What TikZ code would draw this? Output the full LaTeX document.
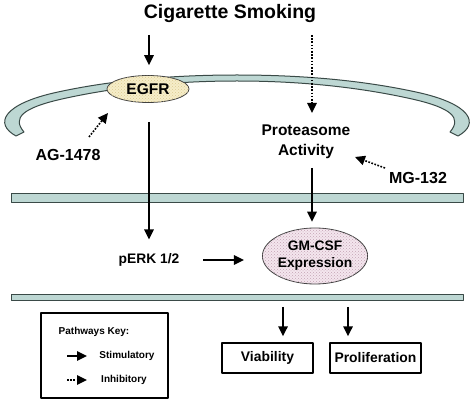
\documentclass[tikz,border=0pt]{standalone}
\usepackage{fontspec}
\setmainfont{Liberation Sans}
\usetikzlibrary{arrows.meta,shapes.geometric,patterns}
\definecolor{membrane}{HTML}{BDD7D3}
\definecolor{membraneedge}{HTML}{3A4A47}
\definecolor{receptor}{HTML}{F6EDC9}
\definecolor{receptordots}{HTML}{DCCB92}
\definecolor{expr}{HTML}{F4E6EE}
\definecolor{exprdots}{HTML}{C4A3B4}

\begin{document}
\begin{tikzpicture}[
  x=1pt, y=-1pt,
  line join=round,
  stim/.style={line width=1.6pt, -{Triangle[length=10pt,width=9.5pt]}},
  inhib/.style={stim, dash pattern=on 1.7pt off 1.5pt},
  band/.style={fill=membrane, draw=membraneedge, line width=1pt},
  lbl/.style={font=\bfseries\fontsize{15.5}{20}\selectfont, inner sep=0pt, align=center},
  smalllbl/.style={font=\bfseries\fontsize{13.8}{17}\selectfont, inner sep=0pt, align=center},
  keylbl/.style={font=\bfseries\fontsize{10}{12}\selectfont, inner sep=0pt},
  outcome/.style={draw, line width=1.4pt, minimum width=91pt, minimum height=30pt,
    inner sep=0pt, font=\bfseries\fontsize{13.9}{16}\selectfont},
]
\useasboundingbox (0,0) rectangle (474,403);

% ── the membranes ─────────────────────────────────────────────────────────
\draw[band] (16,136) .. controls (-6,124) and (2,104) .. (58,92)
  .. controls (118,79) and (180,75) .. (237,75)
  .. controls (294,75) and (356,79) .. (416,92)
  .. controls (472,104) and (480,124) .. (458,136) -- (450,132)
  .. controls (462,118) and (452,108) .. (412,99)
  .. controls (354,86) and (294,81) .. (237,81)
  .. controls (180,81) and (120,86) .. (62,99)
  .. controls (22,108) and (12,118) .. (24,132) -- cycle;
\draw[band] (11,194) rectangle (463,203);
\draw[band] (11,295) rectangle (463,301);

% ── labels and molecules ──────────────────────────────────────────────────
\node[font=\bfseries\fontsize{19.5}{22}\selectfont, inner sep=0pt] (smoke) at (230,14) {Cigarette Smoking};
\node[lbl, ellipse, draw=black!75, line width=0.8pt, fill=receptor,
  postaction={pattern=crosshatch dots, pattern color=receptordots},
  minimum width=82pt, minimum height=27pt] (egfr) at (148,89) {EGFR};
\node[lbl] (prot) at (306,142) {Proteasome\\Activity};
\node[lbl, font=\bfseries\fontsize{16}{19}\selectfont] (ag) at (68,155) {AG-1478};
\node[lbl, font=\bfseries\fontsize{16}{19}\selectfont] (mg) at (418,178) {MG-132};
\node[smalllbl] (perk) at (149,260) {pERK 1/2};
\node[smalllbl, ellipse, draw=black!75, line width=0.8pt, fill=expr,
  postaction={pattern=crosshatch dots, pattern color=exprdots},
  minimum width=104pt, minimum height=56pt] (gmcsf) at (315,256) {GM-CSF\\Expression};
\node[outcome] (viab) at (267.5,358) {Viability};
\node[outcome] (prolif) at (375.5,358) {Proliferation};

% ── pathways ──────────────────────────────────────────────────────────────
\coordinate (smokeA) at (149,35);
\coordinate (smokeB) at (312,35);
\coordinate (egfrout) at (149,122);
\coordinate (protout) at (312,168);
\coordinate (agout) at (89,137);
\coordinate (agtip) at (108,113);
\coordinate (mgout) at (385,168);
\coordinate (mgtip) at (355,157);
\coordinate (viabin) at (283,307);
\coordinate (prolifin) at (348,307);

\draw[stim, shorten >=10pt] (smokeA) -- (smokeA |- egfr.north);
\draw[inhib] (smokeB) -- (312,113) coordinate (protin);
\draw[inhib] (agout) -- (agtip);
\draw[inhib] (mgout) -- (mgtip);
\draw[stim, shorten >=14pt] (egfrout) -- (egfrout |- perk.north);
\draw[stim, shorten >=6pt] (protout) -- (protout |- gmcsf.north);
\draw[stim, shorten <=24pt, shorten >=18pt] (perk.east) -- (perk.east -| gmcsf.west);
\draw[stim, shorten >=6pt] (viabin) -- (viabin |- viab.north);
\draw[stim, shorten >=6pt] (prolifin) -- (prolifin |- prolif.north);

% ── the key ───────────────────────────────────────────────────────────────
\node[draw, line width=1.4pt, minimum width=127pt, minimum height=85pt] (key) at (104.5,355.5) {};
\node[keylbl] (keyhead) at (94,332) {Pathways Key:};
\node[keylbl] (keystim) at (127,356) {Stimulatory};
\node[keylbl] (keyinhib) at (124,380) {Inhibitory};
\coordinate (stimA) at (67,356);
\coordinate (inhibA) at (67,380);
\draw[stim] (stimA) -- ++(20,0);
\draw[inhib] (inhibA) -- ++(20,0);

\end{tikzpicture}
\end{document}
